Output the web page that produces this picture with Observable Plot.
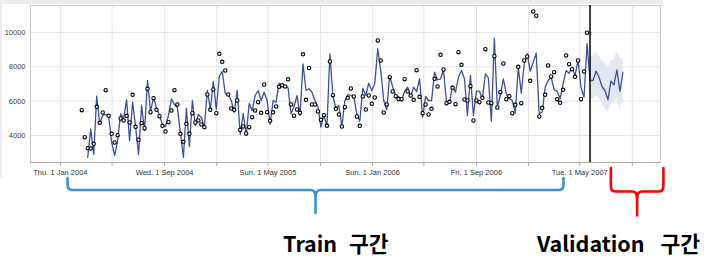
<!DOCTYPE html>
<html>
<head>
<meta charset="utf-8">
<script src="https://cdn.jsdelivr.net/npm/d3@7"></script>
<script src="https://cdn.jsdelivr.net/npm/@observablehq/plot@0.6"></script>
<style>
  html, body { margin: 0; padding: 0; background: #ffffff; }
  #chart { width: 720px; height: 272px; }
</style>
</head>
<body>
<div id="chart"></div>
<script>
// ---------------- data ----------------
const startDate = "2004-02-20";      // first weekly observation
const splitDate = "2007-05-25";      // train / validation split
const fitStartIndex = 2;             // fitted line begins at week 2
const forecastStartIndex = 170;      // first validation week

// weekly actual values (train period)
const actual = [
  5474,3901,3261,3243,3517,5672,4740,5340,6639,5148,
  4099,3593,4018,4991,4874,5148,4758,6371,4507,3750,
  4717,4426,6721,5357,6173,5497,5125,4565,4233,4775,
  5457,6639,5806,4099,3634,4682,4099,5299,4758,4874,
  4641,4484,6389,5497,6680,5299,8759,8293,7787,6389,
  5573,5497,6039,4332,4525,4117,4484,5066,5457,5940,
  5322,6971,5357,4857,5352,5690,6837,6924,6855,7274,
  5806,5154,5515,5322,8730,6080,7932,5806,5806,5398,
  4915,5183,4565,8311,6348,5556,5224,4525,5649,6196,
  6739,6272,5107,4565,6272,5515,6330,5847,6214,9534,
  8369,5340,5806,7396,6563,6289,6115,6115,7280,6563,
  6330,6080,7804,6255,5299,5806,5224,5556,7303,6855,
  8701,7845,5882,5963,6779,5823,8852,8119,6097,6039,
  6872,4874,6039,5940,6196,9027,5923,5882,8619,5631,
  6522,8194,6115,6289,5299,5788,8002,5882,8369,8602,
  7187,11223,10973,5107,5614,6371,8078,7437,7687,6115,
  5905,6662,8660,8153,7862,7420,8369,6115,7728,9983
];

// weekly fitted / forecast values (weeks 2..181)
const fitted = [
  2736,4391,2894,6289,4682,5165,5224,5107,3610,2835,
  3709,5264,4973,6080,3709,5940,4525,2894,5748,4292,
  7204,5357,6231,5614,5165,4641,4525,5165,6138,5806,
  5614,4134,2736,5573,3360,6039,4583,5224,5049,4466,
  6622,5515,7146,5515,7437,7728,6447,6389,6039,5340,
  6622,4058,5282,4000,5864,5457,6330,6622,6039,6522,
  6039,4641,6039,5940,7047,6855,6913,6779,5264,5690,
  6330,5165,8177,6622,6721,6522,6039,5690,4484,5224,
  4484,8759,6330,5556,5748,4525,6039,6389,6330,6231,
  5264,4833,6756,6330,7047,6622,7012,9051,7787,6039,
  5497,7495,6814,6330,6272,6039,6581,6814,6272,6814,
  6563,7303,5066,6272,6039,6039,7687,7245,7303,7787,
  5940,5882,6913,6522,7396,7787,7303,5165,7495,5165,
  6581,6581,6138,7594,7361,4833,9668,5649,6330,7303,
  6429,6138,6039,5299,7979,6464,8177,8759,7746,8270,
  8794,5264,5357,6814,7204,7396,6662,6581,6138,7012,
  7787,7629,7979,7495,8410,6779,6231,9342,7204,7204,
  7746,7396,6855,6622,6080,7163,6953,7827,6563,7670
];

// forecast uncertainty band (weeks 170..181)
const bandUpper = [8486,8660,8835,8660,8369,8253,7903,8369,8369,8835,8486,8486];
const bandLower = [6156,6039,6330,6156,5864,5573,5340,5806,5864,6214,5457,6039];

// axes
const yTicks = [4000, 6000, 8000, 10000];
const xDomain = ["2003-10-23", "2007-11-06"];
const yDomain = [2430, 11570];
const xGridDates = ["2004-01-01","2004-05-01","2004-09-01","2005-01-01","2005-05-01","2005-09-01",
                    "2006-01-01","2006-05-01","2006-09-01","2007-01-01","2007-05-01","2007-09-01"];
const xLabelDates = ["2004-01-01","2004-09-01","2005-05-01","2006-01-01","2006-09-01","2007-05-01"];

// annotation segments under the axis
const segmentLabels = ["Train 구간", "Validation 구간"];
const segmentStarts = ["2004-01-19", "2007-07-14"];
const segmentEnds   = ["2007-03-25", "2007-11-14"];

// ---------------- build ----------------
const parse = d3.utcParse("%Y-%m-%d");
const start = parse(startDate);
const weekDate = i => d3.utcDay.offset(start, 7 * i);
const fmt = d3.utcFormat("%a. %-d %b %Y");
const labelSet = new Set(xLabelDates);

const actualData = actual.map((v, i) => ({date: weekDate(i), value: v}));
const fittedData = fitted.map((v, i) => ({date: weekDate(i + fitStartIndex), value: v}));
const bandData = bandUpper.map((u, i) => ({date: weekDate(i + forecastStartIndex), upper: u, lower: bandLower[i]}));
const gridDates = xGridDates.map(parse);

const plot = Plot.plot({
  width: 720,
  height: 272,
  marginLeft: 30,
  marginRight: 60,
  marginTop: 5,
  marginBottom: 110,
  style: {fontFamily: "'Liberation Sans', Arial, sans-serif", fontSize: "7.5px", color: "#333", background: "#ffffff", overflow: "visible"},
  x: {type: "utc", domain: xDomain.map(parse)},
  y: {domain: yDomain},
  marks: [
    Plot.gridX(gridDates, {stroke: "#e4e4e4", strokeOpacity: 1, strokeWidth: 1}),
    Plot.gridY(yTicks, {stroke: "#e4e4e4", strokeOpacity: 1, strokeWidth: 1}),
    Plot.frame({stroke: "#c8c8c8"}),
    Plot.axisY(yTicks, {tickSize: 0, tickPadding: 5, tickFormat: d => String(d), fill: "#444", label: null}),
    Plot.axisX(gridDates, {tickSize: 4, tickPadding: 3.5, stroke: "#aaaaaa",
      tickFormat: d => labelSet.has(d3.utcFormat("%Y-%m-%d")(d)) ? fmt(d) : "", fill: "#333", label: null}),
    Plot.ruleY([yDomain[0]], {stroke: "#aaaaaa"}),
    Plot.areaY(bandData, {x: "date", y1: "lower", y2: "upper", fill: "#e3e7f0", fillOpacity: 1, curve: "linear"}),
    Plot.line(fittedData, {x: "date", y: "value", stroke: "#3d5094", strokeWidth: 1.3}),
    Plot.dot(actualData, {x: "date", y: "value", r: 1.7, fill: "white", stroke: "black", strokeWidth: 1.1}),
    Plot.ruleX([parse(splitDate)], {stroke: "black", strokeWidth: 1.5})
  ]
});

document.getElementById("chart").appendChild(plot);

// ---------- annotations (braces + labels) drawn with the plot's x scale ----------
const xs = plot.scale("x");
const svg = d3.select(plot);

// card edge decoration (top and left strip)
svg.insert("rect", ":first-child").attr("x", 0).attr("y", 0).attr("width", 663).attr("height", 4).attr("fill", "#ececec");
svg.insert("rect", ":first-child").attr("x", 0).attr("y", 0).attr("width", 2).attr("height", 177).attr("fill", "#ececec");

const braceStyle = [
  {color: "#3a93d6", top: 178, mid: 190, tip: 213, textX: 283, spacing: "7px"},
  {color: "#ff0000", top: 168, mid: 191.5, tip: 215.5, textX: 537, spacing: "11px"}
];

function bracePath(x0, x1, yTop, yMid, yTip, r) {
  const xc = (x0 + x1) / 2;
  return `M${x0},${yTop} L${x0},${yMid - r} Q${x0},${yMid} ${x0 + r},${yMid} ` +
         `L${xc - r},${yMid} Q${xc},${yMid} ${xc},${yMid + r * 1.4} L${xc},${yTip} ` +
         `M${xc},${yMid + r * 1.4} Q${xc},${yMid} ${xc + r},${yMid} ` +
         `L${x1 - r},${yMid} Q${x1},${yMid} ${x1},${yMid - r} L${x1},${yTop}`;
}

const g = svg.append("g").attr("text-anchor", "start");
segmentLabels.forEach((label, i) => {
  const st = braceStyle[i];
  const x0 = xs.apply(parse(segmentStarts[i]));
  const x1 = xs.apply(parse(segmentEnds[i]));
  g.append("path")
    .attr("d", bracePath(x0, x1, st.top, st.mid, st.tip, 5))
    .attr("fill", "none")
    .attr("stroke", st.color)
    .attr("stroke-width", 2.6)
    .attr("stroke-linecap", "round")
    .attr("stroke-linejoin", "round");
  g.append("text")
    .attr("x", st.textX)
    .attr("y", 252)
    .attr("text-anchor", "start")
    .attr("font-family", "'Noto Sans CJK KR', 'Noto Sans', sans-serif")
    .attr("font-weight", "bold")
    .attr("font-size", "21.5px")
    .attr("fill", "#000")
    .style("word-spacing", st.spacing)
    .text(label);
});
</script>
</body>
</html>
